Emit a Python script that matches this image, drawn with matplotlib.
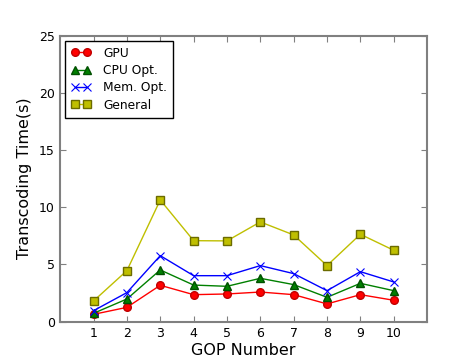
import matplotlib
matplotlib.use("Agg")
import matplotlib.pyplot as plt

gop = [1, 2, 3, 4, 5, 6, 7, 8, 9, 10]
gpu = [0.64, 1.25, 3.18, 2.36, 2.42, 2.59, 2.36, 1.55, 2.36, 1.87]
cpu_opt = [0.73, 1.98, 4.52, 3.20, 3.09, 3.79, 3.24, 2.13, 3.35, 2.71]
mem_opt = [0.96, 2.54, 5.77, 4.02, 4.02, 4.90, 4.20, 2.71, 4.37, 3.47]
general = [1.81, 4.46, 10.64, 7.08, 7.06, 8.72, 7.58, 4.90, 7.64, 6.24]

fig = plt.figure(figsize=(4.74, 3.57), dpi=100)
ax = fig.add_axes([0.127, 0.099, 0.774, 0.801])

ax.plot(gop, gpu, color="r", marker="o", markersize=5.5, markeredgecolor="#c00000",
        linewidth=1, label="GPU")
ax.plot(gop, cpu_opt, color="g", marker="^", markersize=6, markeredgecolor="#005000",
        linewidth=1, label="CPU Opt.")
ax.plot(gop, mem_opt, color="b", marker="x", markersize=6, markeredgewidth=0.8,
        linewidth=1, label="Mem. Opt.")
ax.plot(gop, general, color="#bfbf00", marker="s", markersize=5.5, markeredgecolor="#6b6b00",
        linewidth=1, label="General")

ax.set_xlim(0, 11)
ax.set_ylim(0, 25)
ax.set_xticks(gop)
ax.set_yticks([0, 5, 10, 15, 20, 25])
ax.tick_params(direction="in", top=True, right=True, labelsize=9, color="gray",
               length=4, pad=4)
for s in ax.spines.values():
    s.set_color("gray")
    s.set_linewidth(1.5)

ax.set_xlabel("GOP Number", fontsize=11.5, labelpad=2)
ax.set_ylabel("Transcoding Time(s)", fontsize=11.5, labelpad=5)

leg = ax.legend(loc="upper left", fontsize=8.8, fancybox=False, borderaxespad=0.4,
                numpoints=2, handlelength=1.6, handletextpad=1.0,
                labelspacing=0.35, borderpad=0.5)
leg.get_frame().set_edgecolor("black")
leg.get_frame().set_alpha(1)

plt.savefig("out.png", dpi=100)
